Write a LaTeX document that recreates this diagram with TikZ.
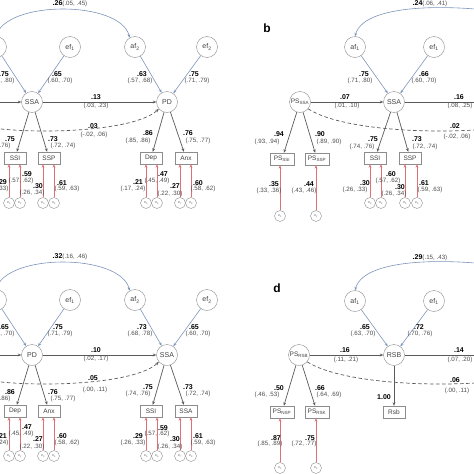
\documentclass[tikz,border=0pt]{standalone}
\usepackage{fontspec}
\setmainfont{Liberation Sans}
\usepackage{tikz}
\usetikzlibrary{arrows.meta}

\definecolor{loadblue}{RGB}{125,148,186}
\definecolor{errred}{RGB}{222,112,118}
\definecolor{linegray}{RGB}{90,90,90}
\definecolor{rimgray}{RGB}{140,140,140}

% estimate (bold) and its interval (below)
\newcommand{\coef}[5]{\node[est] (#1) at #2 {#3}; \node[ci] (#1ci) at #4 {#5};}

% two latent variables with their factors, indicators and residuals
\newcommand{\twolatent}[7]{%
    \node[fac] (#1af1) at (-4,47) {af\textsubscript{1}};
    \node[fac] (#1ef1) at (70,47) {ef\textsubscript{1}};
    \node[fac] (#1af2) at (135,47) {af\textsubscript{2}};
    \node[fac] (#1ef2) at (207,47) {ef\textsubscript{2}};
    \node[fac] (#1L1) at (32,102) {#2};
    \node[fac] (#1L2) at (167,102) {#3};
    \node[obs] (#1o1) at (15,158) {#4};
    \node[obs] (#1o2) at (49,158) {#5};
    \node[obs] (#1o3) at (151,158) {#6};
    \node[obs] (#1o4) at (186,158) {#7};
    \foreach \i/\x/\o in {1/9/1, 2/20/1, 3/43/2, 4/54/2, 5/146/3, 6/157/3, 7/180/4, 8/191/4}{
        \node[res] (#1e\i) at (\x,203) {e\textsubscript{\i}};
        \draw[err] (#1e\i) -- (#1e\i |- #1o\o.south);
    }
    \coordinate (#1in) at (-14,102);
    \coordinate (#1from) at (-40,120);
    \draw[load] (#1af1) -- (#1L1);
    \draw[load] (#1ef1) -- (#1L1);
    \draw[load] (#1af2) -- (#1L2);
    \draw[load] (#1ef2) -- (#1L2);
    \draw[cov] (#1af1.north) .. controls (5,0) and (120,0) .. (#1af2.120);
    \draw[reg] (#1in) -- (#1L1);
    \draw[reg] (#1L1) -- (#1L2);
    \draw[indirect] (#1from) .. controls (-10,136) and (130,136) .. (#1L2.220);
    \draw[ind] (#1L1) -- (#1o1);
    \draw[ind] (#1L1) -- (#1o2);
    \draw[ind] (#1L2) -- (#1o3);
    \draw[ind] (#1L2) -- (#1o4);
}

\begin{document}
\begin{tikzpicture}[x=1pt, y=-1pt, >={Stealth[length=3.5pt,width=2.8pt]},
    fac/.style={circle, draw=rimgray, minimum size=21pt, inner sep=0pt,
        text=black!75, font=\fontsize{7}{8}\selectfont},
    obs/.style={draw=rimgray, minimum width=22pt, minimum height=12pt,
        inner sep=1pt, text=black!75, font=\fontsize{6.5}{7}\selectfont},
    res/.style={circle, draw=rimgray, minimum size=11pt, inner sep=0pt,
        text=black!60, font=\fontsize{3.5}{4}\selectfont},
    load/.style={->, draw=loadblue, line width=0.6pt},
    cov/.style={->, draw=loadblue, line width=0.6pt},
    reg/.style={->, draw=linegray, line width=0.9pt},
    ind/.style={->, draw=linegray, line width=0.7pt},
    indirect/.style={->, draw=linegray, line width=0.7pt, dash pattern=on 3.5pt off 2.5pt},
    err/.style={->, draw=errred, line width=0.8pt},
    est/.style={inner sep=0pt, font=\bfseries\fontsize{7}{8}\selectfont},
    ci/.style={inner sep=0pt, text=black!70, font=\fontsize{6.2}{7}\selectfont},
    tag/.style={inner sep=0pt, font=\bfseries\fontsize{12}{14}\selectfont}]

    \useasboundingbox (0,0) rectangle (474,474);
    \clip (0,0) rectangle (474,474);

    % --- Panel a: SSA -> PD ---
    \twolatent{a}{SSA}{PD}{SSI}{SSP}{Dep}{Anx}
    \node[ci] (acov) at (70,4) {\textcolor{black}{\bfseries\fontsize{7}{8}\selectfont.26}(.05, .45)};
    \coef{aw1}{(4,74)}{.75}{(2,81)}{(.71, .80)}
    \coef{aw2}{(57,74)}{.65}{(60,81)}{(.60, .70)}
    \coef{aw3}{(142,74)}{.63}{(140,81)}{(.57, .68)}
    \coef{aw4}{(194,74)}{.75}{(197,81)}{(.71, .79)}
    \coef{ab1}{(96,97)}{.13}{(96,106)}{(.03, .23)}
    \coef{ad1}{(93,126)}{.03}{(94,135)}{(-.02, .06)}
    \coef{al1}{(10,139)}{.75}{(-2,146)}{(.74, .76)}
    \coef{al2}{(53,139)}{.73}{(63,146)}{(.72, .74)}
    \coef{al3}{(148,133)}{.86}{(138,141)}{(.85, .86)}
    \coef{al4}{(188,133)}{.76}{(198,141)}{(.75, .77)}
    \coef{ar1}{(2,182)}{.29}{(-4,189)}{(.26, .33)}
    \coef{ar2}{(27,174)}{.59}{(21,181)}{(.57, .62)}
    \coef{ar3}{(38,186)}{.30}{(32,193)}{(.26, .34)}
    \coef{ar4}{(62,183)}{.61}{(67,189)}{(.59, .63)}
    \coef{ar5}{(138,182)}{.21}{(133,189)}{(.17, .24)}
    \coef{ar6}{(163,174)}{.47}{(157,181)}{(.45, .49)}
    \coef{ar7}{(175,186)}{.27}{(170,194)}{(.22, .30)}
    \coef{ar8}{(198,183)}{.60}{(203,189)}{(.58, .62)}

    % --- Panel c: PD -> SSA ---
    \begin{scope}[shift={(0,253)}]
        \twolatent{c}{PD}{SSA}{Dep}{Anx}{SSI}{SSA}
        \node[ci] (ccov) at (70,4) {\textcolor{black}{\bfseries\fontsize{7}{8}\selectfont.32}(.16, .46)};
        \coef{cw1}{(4,74)}{.65}{(2,81)}{(.60, .70)}
        \coef{cw2}{(58,74)}{.75}{(60,81)}{(.71, .79)}
        \coef{cw3}{(142,74)}{.73}{(140,81)}{(.68, .78)}
        \coef{cw4}{(194,74)}{.65}{(198,81)}{(.60, .70)}
        \coef{cb1}{(96,97)}{.10}{(96,106)}{(.02, .17)}
        \coef{cd1}{(93,125)}{.05}{(95,137)}{(.00, .11)}
        \coef{cl1}{(10,139)}{.86}{(-2,146)}{(.85, .86)}
        \coef{cl2}{(53,139)}{.76}{(63,146)}{(.75, .77)}
        \coef{cl3}{(148,134)}{.75}{(138,141)}{(.74, .76)}
        \coef{cl4}{(188,134)}{.73}{(198,141)}{(.72, .74)}
        \coef{cr1}{(2,183)}{.21}{(-4,190)}{(.17, .24)}
        \coef{cr2}{(27,174)}{.47}{(21,181)}{(.45, .49)}
        \coef{cr3}{(38,186)}{.27}{(32,194)}{(.22, .30)}
        \coef{cr4}{(62,183)}{.60}{(67,190)}{(.58, .62)}
        \coef{cr5}{(138,183)}{.29}{(133,190)}{(.26, .33)}
        \coef{cr6}{(163,175)}{.59}{(157,181)}{(.57, .62)}
        \coef{cr7}{(175,186)}{.30}{(170,194)}{(.26, .34)}
        \coef{cr8}{(198,183)}{.61}{(203,190)}{(.59, .63)}
    \end{scope}

    % --- Panel b: PS_SSA -> SSA ---
    \node[tag] (tagb) at (267,28) {b};
    \node[fac] (baf1) at (355,47) {af\textsubscript{1}};
    \node[fac] (bef1) at (434,47) {ef\textsubscript{1}};
    \node[fac, font=\fontsize{6.5}{7}\selectfont] (bL1) at (300,102) {PS\textsubscript{SSA}};
    \node[fac] (bL2) at (394,102) {SSA};
    \node[obs, minimum width=24pt] (bo1) at (282,159) {PS\textsubscript{SSI}};
    \node[obs, minimum width=24pt] (bo2) at (317,159) {PS\textsubscript{SSP}};
    \node[obs] (bo3) at (375,158) {SSI};
    \node[obs] (bo4) at (410,158) {SSP};
    \foreach \i/\x/\y/\o in {1/280/216/1, 2/316/216/2, 3/370/203/3, 4/381/203/3, 5/405/203/4, 6/417/203/4}{
        \node[res] (be\i) at (\x,\y) {e\textsubscript{\i}};
        \draw[err] (be\i) -- (be\i |- bo\o.south);
    }
    \coordinate (bout) at (490,102);
    \coordinate (bto) at (540,120);
    \coordinate (bcov) at (520,15);
    \draw[load] (baf1) -- (bL2);
    \draw[load] (bef1) -- (bL2);
    \draw[cov] (bcov) .. controls (470,5) and (365,0) .. (baf1.north);
    \draw[reg] (bL1) -- (bL2);
    \draw[reg] (bL2) -- (bout);
    \draw[indirect] (bL1.-40) .. controls (350,136) and (490,136) .. (bto);
    \draw[ind] (bL1) -- (bo1);
    \draw[ind] (bL1) -- (bo2);
    \draw[ind] (bL2) -- (bo3);
    \draw[ind] (bL2) -- (bo4);
    \node[ci] (bcovlab) at (430,4) {\textcolor{black}{\bfseries\fontsize{7}{8}\selectfont.24}(.06, .41)};
    \coef{bw1}{(364,74)}{.75}{(360,81)}{(.71, .80)}
    \coef{bw2}{(424,74)}{.66}{(424,81)}{(.60, .70)}
    \coef{bb1}{(345,97)}{.07}{(347,106)}{(.01, .10)}
    \coef{bb2}{(459,97)}{.16}{(460,106)}{(.08, .25)}
    \coef{bd1}{(455,126)}{.02}{(457,137)}{(-.02, .06)}
    \coef{bl1}{(279,134)}{.94}{(267,142)}{(.93, .94)}
    \coef{bl2}{(320,134)}{.90}{(329,142)}{(.89, .90)}
    \coef{bl3}{(373,139)}{.75}{(362,147)}{(.74, .76)}
    \coef{bl4}{(417,139)}{.73}{(425,147)}{(.72, .74)}
    \coef{br1}{(274,184)}{.35}{(269,191)}{(.33, .36)}
    \coef{br2}{(309,184)}{.44}{(304,191)}{(.43, .46)}
    \coef{br3}{(365,183)}{.30}{(355,190)}{(.26, .33)}
    \coef{br4}{(391,174)}{.60}{(388,181)}{(.57, .62)}
    \coef{br5}{(400,187)}{.30}{(394,194)}{(.26, .34)}
    \coef{br6}{(424,183)}{.61}{(430,190)}{(.59, .63)}

    % --- Panel d: PS_RSB -> RSB ---
    \node[tag] (tagd) at (277,288) {d};
    \begin{scope}[shift={(0,253)}]
        \node[fac] (daf1) at (355,48) {af\textsubscript{1}};
        \node[fac] (def1) at (434,48) {ef\textsubscript{1}};
        \node[fac, font=\fontsize{6.5}{7}\selectfont] (dL1) at (299,102) {PS\textsubscript{RSB}};
        \node[fac] (dL2) at (394,102) {RSB};
        \node[obs, minimum width=24pt] (do1) at (282,159) {PS\textsubscript{NSP}};
        \node[obs, minimum width=24pt] (do2) at (317,159) {PS\textsubscript{RSK}};
        \node[obs] (do3) at (394,159) {Rsb};
        \foreach \i/\x/\o in {1/280/1, 2/316/2}{
            \node[res] (de\i) at (\x,215) {e\textsubscript{\i}};
            \draw[err] (de\i) -- (de\i |- do\o.south);
        }
        \coordinate (dout) at (490,102);
        \coordinate (dto) at (540,120);
        \coordinate (dcov) at (520,16);
        \draw[load] (daf1) -- (dL2);
        \draw[load] (def1) -- (dL2);
        \draw[cov] (dcov) .. controls (470,6) and (365,1) .. (daf1.north);
        \draw[reg] (dL1) -- (dL2);
        \draw[reg] (dL2) -- (dout);
        \draw[indirect] (dL1.-40) .. controls (350,136) and (490,136) .. (dto);
        \draw[ind] (dL1) -- (do1);
        \draw[ind] (dL1) -- (do2);
        \draw[ind] (dL2) -- (do3);
        \node[ci] (dcovlab) at (430,5) {\textcolor{black}{\bfseries\fontsize{7}{8}\selectfont.29}(.15, .43)};
        \coef{dw1}{(365,74)}{.65}{(363,81)}{(.63, .70)}
        \coef{dw2}{(419,74)}{.72}{(420,81)}{(.70, .76)}
        \coef{db1}{(345,97)}{.16}{(346,107)}{(.11, .21)}
        \coef{db2}{(459,97)}{.14}{(460,107)}{(.07, .20)}
        \coef{dd1}{(455,127)}{.06}{(457,138)}{(.00, .11)}
        \coef{dl1}{(279,135)}{.50}{(267,142)}{(.46, .53)}
        \coef{dl2}{(320,135)}{.66}{(329,142)}{(.64, .69)}
        \node[est] (dl3) at (384,144) {1.00};
        \coef{dr1}{(276,185)}{.87}{(270,191)}{(.85, .89)}
        \coef{dr2}{(310,185)}{.75}{(304,191)}{(.72, .77)}
    \end{scope}

\end{tikzpicture}
\end{document}
